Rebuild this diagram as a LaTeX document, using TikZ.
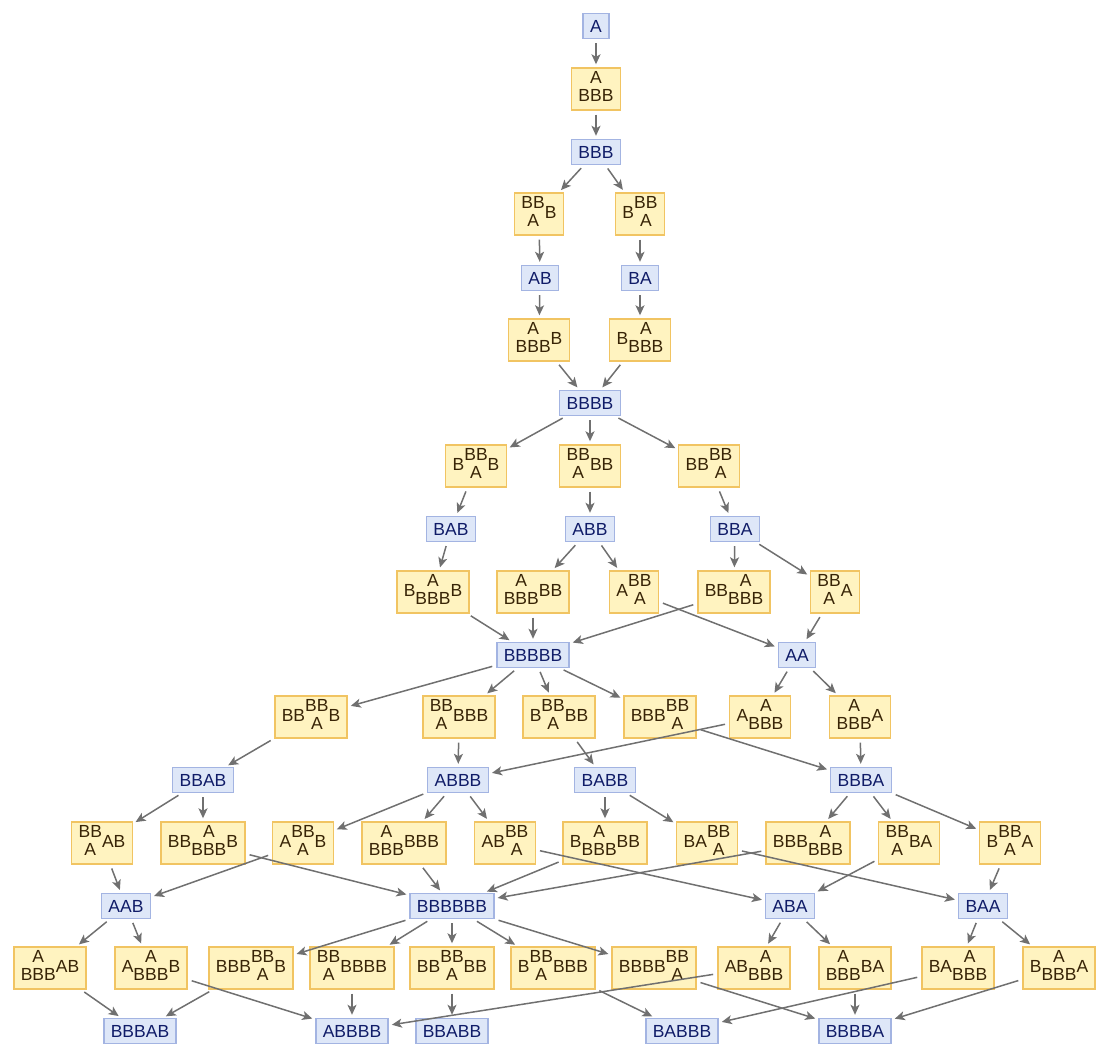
\documentclass[tikz,border=0pt]{standalone}
\usepackage{fontspec}
\setmainfont{Liberation Sans}
\usepackage{xcolor}
\usepackage{tikz}
\usetikzlibrary{arrows.meta}

\definecolor{statefill}{RGB}{222,231,248}
\definecolor{stateline}{RGB}{163,180,226}
\definecolor{statetext}{RGB}{16,28,104}
\definecolor{rulefill}{RGB}{255,243,192}
\definecolor{ruleline}{RGB}{241,196,98}
\definecolor{ruletext}{RGB}{56,36,6}
\definecolor{edgegray}{RGB}{112,112,112}

% left part, stacked pair, right part
\newcommand{\rs}[4]{#1\begin{tabular}{@{}c@{}}#2\\#3\end{tabular}#4}

\begin{document}
\begin{tikzpicture}[
  x=1pt, y=-1pt,
  state/.style={
    draw=stateline,
    fill=statefill,
    text=statetext,
    line width=1.4pt,
    minimum height=25pt,
    inner xsep=7pt,
    inner ysep=0pt,
    font=\fontsize{17.5}{18.5}\selectfont
  },
  rule/.style={
    draw=ruleline,
    fill=rulefill,
    text=ruletext,
    line width=1.4pt,
    minimum height=42pt,
    inner xsep=7pt,
    inner ysep=0pt,
    font=\fontsize{17.5}{18.5}\selectfont
  },
  arr/.style={
    -{Stealth[length=10pt,width=9pt,inset=2.5pt]},
    line width=1.5pt,
    edgegray,
    shorten <=4pt,
    shorten >=3pt
  }
]
\useasboundingbox (0,0) rectangle (1096,1054);

% States
\node [state] (A) at (596,26) {A};
\node [state] (BBB) at (596,152) {BBB};
\node [state] (AB) at (540,278) {AB};
\node [state] (BA) at (640,278) {BA};
\node [state] (BBBB) at (590,403) {BBBB};
\node [state] (BAB) at (451,529) {BAB};
\node [state] (ABB) at (590,529) {ABB};
\node [state] (BBA) at (735,529) {BBA};
\node [state] (BBBBB) at (533,655) {BBBBB};
\node [state] (AA) at (797,655) {AA};
\node [state] (BBAB) at (203,780) {BBAB};
\node [state] (ABBB) at (458,780) {ABBB};
\node [state] (BABB) at (605,780) {BABB};
\node [state] (BBBA) at (861,780) {BBBA};
\node [state] (AAB) at (126,906) {AAB};
\node [state] (BBBBBB) at (452,906) {BBBBBB};
\node [state] (ABA) at (790,906) {ABA};
\node [state] (BAA) at (983,906) {BAA};
\node [state] (BBBAB) at (140,1031) {BBBAB};
\node [state] (ABBBB) at (352,1031) {ABBBB};
\node [state] (BBABB) at (452,1031) {BBABB};
\node [state] (BABBB) at (682,1031) {BABBB};
\node [state] (BBBBA) at (855,1031) {BBBBA};

% Rules
\node [rule] (r2) at (596,89) {\rs{}{A}{BBB}{}};
\node [rule] (r4a) at (539,214) {\rs{}{BB}{A}{B}};
\node [rule] (r4b) at (640,214) {\rs{B}{BB}{A}{}};
\node [rule] (r6a) at (539,340) {\rs{}{A}{BBB}{B}};
\node [rule] (r6b) at (640,340) {\rs{B}{A}{BBB}{}};
\node [rule] (r8a) at (476,466) {\rs{B}{BB}{A}{B}};
\node [rule] (r8b) at (590,466) {\rs{}{BB}{A}{BB}};
\node [rule] (r8c) at (709,466) {\rs{BB}{BB}{A}{}};
\node [rule] (r10a) at (433,592) {\rs{B}{A}{BBB}{B}};
\node [rule] (r10b) at (533,592) {\rs{}{A}{BBB}{BB}};
\node [rule] (r10c) at (634,592) {\rs{A}{BB}{A}{}};
\node [rule] (r10d) at (734,592) {\rs{BB}{A}{BBB}{}};
\node [rule] (r10e) at (835,592) {\rs{}{BB}{A}{A}};
\node [rule] (r12a) at (311,717) {\rs{BB}{BB}{A}{B}};
\node [rule] (r12b) at (459,717) {\rs{}{BB}{A}{BBB}};
\node [rule] (r12c) at (559,717) {\rs{B}{BB}{A}{BB}};
\node [rule] (r12d) at (660,717) {\rs{BBB}{BB}{A}{}};
\node [rule] (r12e) at (760,717) {\rs{A}{A}{BBB}{}};
\node [rule] (r12f) at (860,717) {\rs{}{A}{BBB}{A}};
\node [rule] (r14a) at (102,843) {\rs{}{BB}{A}{AB}};
\node [rule] (r14b) at (203,843) {\rs{BB}{A}{BBB}{B}};
\node [rule] (r14c) at (303,843) {\rs{A}{BB}{A}{B}};
\node [rule] (r14d) at (404,843) {\rs{}{A}{BBB}{BBB}};
\node [rule] (r14e) at (505,843) {\rs{AB}{BB}{A}{}};
\node [rule] (r14f) at (605,843) {\rs{B}{A}{BBB}{BB}};
\node [rule] (r14g) at (707,843) {\rs{BA}{BB}{A}{}};
\node [rule] (r14h) at (808,843) {\rs{BBB}{A}{BBB}{}};
\node [rule] (r14i) at (909,843) {\rs{}{BB}{A}{BA}};
\node [rule] (r14j) at (1010,843) {\rs{B}{BB}{A}{A}};
\node [rule] (r16a) at (50,968) {\rs{}{A}{BBB}{AB}};
\node [rule] (r16b) at (151,968) {\rs{A}{A}{BBB}{B}};
\node [rule] (r16c) at (251,968) {\rs{BBB}{BB}{A}{B}};
\node [rule] (r16d) at (352,968) {\rs{}{BB}{A}{BBBB}};
\node [rule] (r16e) at (452,968) {\rs{BB}{BB}{A}{BB}};
\node [rule] (r16f) at (553,968) {\rs{B}{BB}{A}{BBB}};
\node [rule] (r16g) at (654,968) {\rs{BBBB}{BB}{A}{}};
\node [rule] (r16h) at (754,968) {\rs{AB}{A}{BBB}{}};
\node [rule] (r16i) at (855,968) {\rs{}{A}{BBB}{BA}};
\node [rule] (r16j) at (958,968) {\rs{BA}{A}{BBB}{}};
\node [rule] (r16k) at (1059,968) {\rs{B}{A}{BBB}{A}};

% Edges
\draw [arr] (A) -- (r2);
\draw [arr] (r2) -- (BBB);
\draw [arr] (BBB) -- (r4a);
\draw [arr] (BBB) -- (r4b);
\draw [arr] (r4a) -- (AB);
\draw [arr] (r4b) -- (BA);
\draw [arr] (AB) -- (r6a);
\draw [arr] (BA) -- (r6b);
\draw [arr] (r6a) -- (BBBB);
\draw [arr] (r6b) -- (BBBB);
\draw [arr] (BBBB) -- (r8a);
\draw [arr] (BBBB) -- (r8b);
\draw [arr] (BBBB) -- (r8c);
\draw [arr] (r8a) -- (BAB);
\draw [arr] (r8b) -- (ABB);
\draw [arr] (r8c) -- (BBA);
\draw [arr] (BAB) -- (r10a);
\draw [arr] (ABB) -- (r10b);
\draw [arr] (ABB) -- (r10c);
\draw [arr] (BBA) -- (r10d);
\draw [arr] (BBA) -- (r10e);
\draw [arr] (r10a) -- (BBBBB);
\draw [arr] (r10b) -- (BBBBB);
\draw [arr] (r10c) -- (AA);
\draw [arr] (r10d) -- (BBBBB);
\draw [arr] (r10e) -- (AA);
\draw [arr] (BBBBB) -- (r12a);
\draw [arr] (BBBBB) -- (r12b);
\draw [arr] (BBBBB) -- (r12c);
\draw [arr] (BBBBB) -- (r12d);
\draw [arr] (AA) -- (r12e);
\draw [arr] (AA) -- (r12f);
\draw [arr] (r12a) -- (BBAB);
\draw [arr] (r12b) -- (ABBB);
\draw [arr] (r12c) -- (BABB);
\draw [arr] (r12d) -- (BBBA);
\draw [arr] (r12e) -- (ABBB);
\draw [arr] (r12f) -- (BBBA);
\draw [arr] (BBAB) -- (r14a);
\draw [arr] (BBAB) -- (r14b);
\draw [arr] (ABBB) -- (r14c);
\draw [arr] (ABBB) -- (r14d);
\draw [arr] (ABBB) -- (r14e);
\draw [arr] (BABB) -- (r14f);
\draw [arr] (BABB) -- (r14g);
\draw [arr] (BBBA) -- (r14h);
\draw [arr] (BBBA) -- (r14i);
\draw [arr] (BBBA) -- (r14j);
\draw [arr] (r14a) -- (AAB);
\draw [arr] (r14b) -- (BBBBBB);
\draw [arr] (r14c) -- (AAB);
\draw [arr] (r14d) -- (BBBBBB);
\draw [arr] (r14e) -- (ABA);
\draw [arr] (r14f) -- (BBBBBB);
\draw [arr] (r14g) -- (BAA);
\draw [arr] (r14h) -- (BBBBBB);
\draw [arr] (r14i) -- (ABA);
\draw [arr] (r14j) -- (BAA);
\draw [arr] (AAB) -- (r16a);
\draw [arr] (AAB) -- (r16b);
\draw [arr] (BBBBBB) -- (r16c);
\draw [arr] (BBBBBB) -- (r16d);
\draw [arr] (BBBBBB) -- (r16e);
\draw [arr] (BBBBBB) -- (r16f);
\draw [arr] (BBBBBB) -- (r16g);
\draw [arr] (ABA) -- (r16h);
\draw [arr] (ABA) -- (r16i);
\draw [arr] (BAA) -- (r16j);
\draw [arr] (BAA) -- (r16k);
\draw [arr] (r16a) -- (BBBAB);
\draw [arr] (r16b) -- (ABBBB);
\draw [arr] (r16c) -- (BBBAB);
\draw [arr] (r16d) -- (ABBBB);
\draw [arr] (r16e) -- (BBABB);
\draw [arr] (r16f) -- (BABBB);
\draw [arr] (r16g) -- (BBBBA);
\draw [arr] (r16h) -- (ABBBB);
\draw [arr] (r16i) -- (BBBBA);
\draw [arr] (r16j) -- (BABBB);
\draw [arr] (r16k) -- (BBBBA);

\end{tikzpicture}
\end{document}
